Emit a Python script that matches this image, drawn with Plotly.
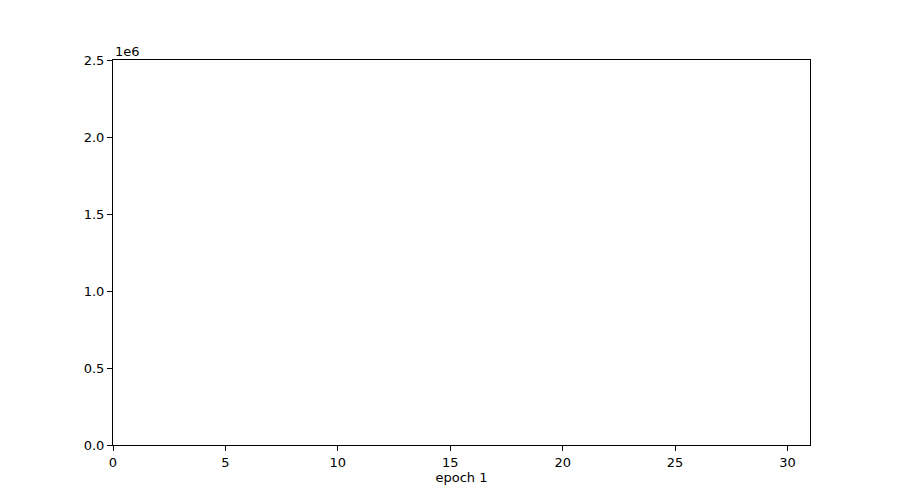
import plotly.graph_objects as go

# ---- Data (the reference chart has no plotted marks) ----
epochs = []
values = []

x_ticks = [0, 5, 10, 15, 20, 25, 30]
y_ticks = [0, 500000, 1000000, 1500000, 2000000, 2500000]
y_tick_labels = ["0.0", "0.5", "1.0", "1.5", "2.0", "2.5"]

font = dict(family="DejaVu Sans", size=13, color="black")

fig = go.Figure()
fig.add_trace(go.Scatter(x=epochs, y=values, mode="lines", line=dict(color="#1f77b4")))

axis_style = dict(showline=True, linecolor="black", linewidth=1, mirror=True,
                  showgrid=False, zeroline=False, ticks="outside", ticklen=5,
                  tickcolor="black", tickwidth=1, tickfont=font)

# margins allow for the 8px page margin of the html body
fig.update_layout(
    width=900, height=500,
    margin=dict(l=105, r=98, t=52, b=63),
    paper_bgcolor="white", plot_bgcolor="white",
    showlegend=False, font=font,
    xaxis=dict(range=[0, 31], tickvals=x_ticks,
               title=dict(text="epoch 1", font=font, standoff=4), **axis_style),
    yaxis=dict(range=[0, 2500000], tickvals=y_ticks, ticktext=y_tick_labels, **axis_style),
)

# matplotlib-style offset text
fig.add_annotation(text="1e6", xref="paper", yref="paper", x=0, y=1,
                   xanchor="left", yanchor="bottom", showarrow=False, font=font, yshift=-1)

fig.write_html("out.html")
